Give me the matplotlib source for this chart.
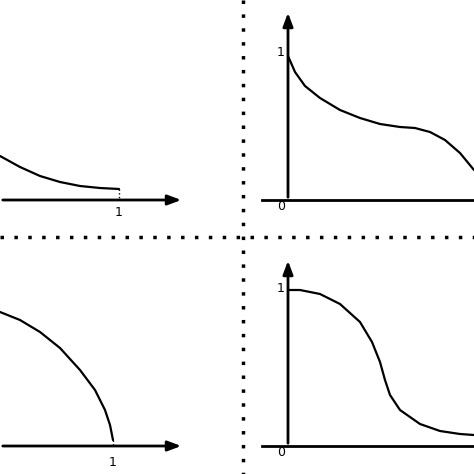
import numpy as np
import matplotlib.pyplot as plt

# curve points (pixel coordinates, y downward)
tl_x = [0, 20, 40, 60, 80, 100, 119]
tl_y = [156, 167, 176, 182, 186, 188, 189]
tr_x = [288, 295, 305, 320, 340, 360, 380, 400, 415, 430, 445, 460, 474]
tr_y = [56, 72, 86, 98, 110, 118, 124, 127, 128, 132, 140, 153, 170]
bl_x = [0, 20, 40, 60, 80, 95, 105, 110, 113]
bl_y = [312, 320, 332, 348, 370, 390, 410, 425, 440]
br_x = [288, 300, 320, 340, 360, 372, 380, 385, 390, 400, 420, 440, 460, 474]
br_y = [290, 290, 294, 304, 322, 342, 362, 380, 395, 410, 424, 431, 434, 435]

fig = plt.figure(figsize=(4.74, 4.74), dpi=100)
ax = fig.add_axes([0, 0, 1, 1])
ax.set_xlim(0, 474)
ax.set_ylim(474, 0)
ax.axis('off')

def smooth(x, y):
    t = np.linspace(0, 1, len(x))
    tt = np.linspace(0, 1, 200)
    from numpy.polynomial import polynomial as P
    return np.interp(tt, t, x), np.interp(tt, t, y)

arrow = dict(arrowstyle='-|>,head_length=0.8,head_width=0.3', color='black', lw=2)

# dividers
ax.plot([243, 243], [0, 474], color='black', lw=2.5, ls=(0, (1, 3)))
ax.plot([0, 474], [237, 237], color='black', lw=2.5, ls=(0, (1, 3)))

# axes
ax.annotate('', xy=(184, 200), xytext=(0, 200), arrowprops=arrow)
ax.annotate('', xy=(184, 446), xytext=(0, 446), arrowprops=arrow)
ax.annotate('', xy=(288, 10), xytext=(288, 200), arrowprops=arrow)
ax.plot([262, 474], [200, 200], color='black', lw=2)
ax.annotate('', xy=(288, 258), xytext=(288, 446), arrowprops=arrow)
ax.plot([262, 474], [446, 446], color='black', lw=2)

# dotted ticks
ax.plot([119, 119], [189, 200], color='black', lw=1, ls=':')
ax.plot([113, 113], [440, 446], color='black', lw=1, ls=':')

for xs, ys in [(tl_x, tl_y), (tr_x, tr_y), (bl_x, bl_y), (br_x, br_y)]:
    ax.plot(xs, ys, color='black', lw=1.6, solid_capstyle='round')

fs = 9
ax.text(119, 212, '1', ha='center', va='center', fontsize=fs)
ax.text(113, 462, '1', ha='center', va='center', fontsize=fs)
ax.text(281, 52, '1', ha='center', va='center', fontsize=fs)
ax.text(281, 207, '0', ha='center', va='center', fontsize=fs)
ax.text(281, 288, '1', ha='center', va='center', fontsize=fs)
ax.text(281, 452, '0', ha='center', va='center', fontsize=fs)

fig.savefig('out.png')
